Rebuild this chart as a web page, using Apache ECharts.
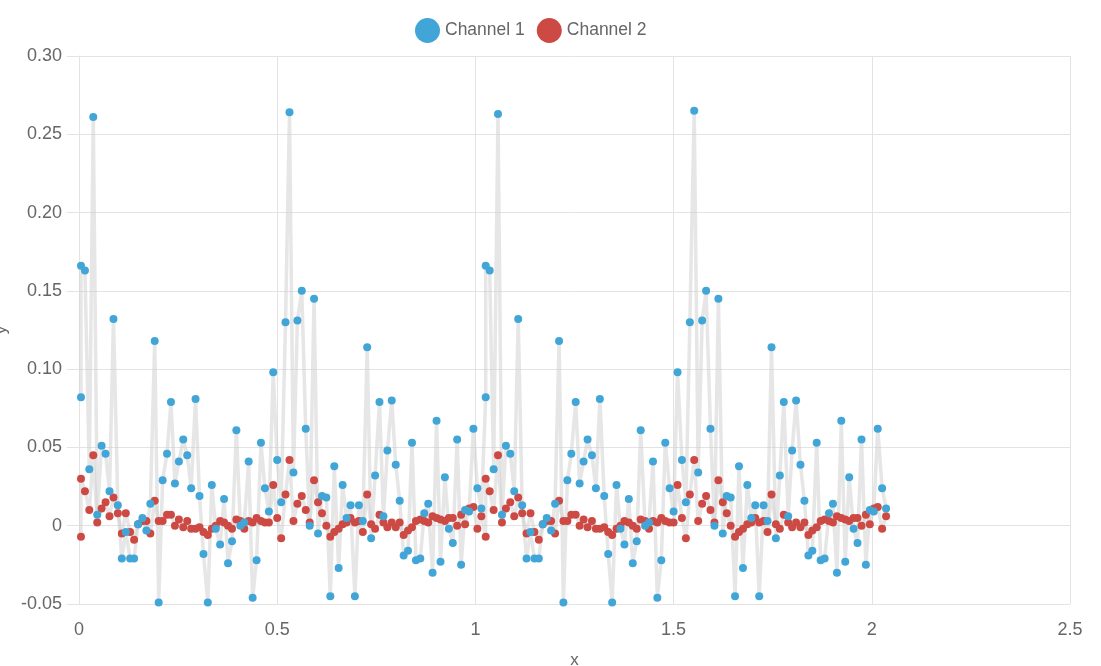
<!DOCTYPE html>
<html>
<head>
<meta charset="utf-8">
<title>Channel 1 / Channel 2</title>
<script src="https://cdn.jsdelivr.net/npm/echarts@6/dist/echarts.min.js"></script>
<style>
  html, body { margin: 0; padding: 0; background: #fff; }
  #chart { width: 1101px; height: 666px; }
</style>
</head>
<body>
<div id="chart"></div>
<script>
// x positions (two recordings of the same pattern, first sample is doubled each time)
const xValues = [
  0.005, 0.005, 0.015, 0.026, 0.036, 0.046, 0.057, 0.067, 0.077, 0.087, 0.098,
  0.108, 0.118, 0.129, 0.139, 0.149, 0.160, 0.170, 0.180, 0.191, 0.201,
  0.211, 0.222, 0.232, 0.242, 0.252, 0.263, 0.273, 0.283, 0.294, 0.304,
  0.314, 0.325, 0.335, 0.345, 0.356, 0.366, 0.376, 0.386, 0.397, 0.407,
  0.417, 0.428, 0.438, 0.448, 0.459, 0.469, 0.479, 0.490, 0.500, 0.510,
  0.521, 0.531, 0.541, 0.551, 0.562, 0.572, 0.582, 0.593, 0.603, 0.613,
  0.624, 0.634, 0.644, 0.655, 0.665, 0.675, 0.685, 0.696, 0.706, 0.716,
  0.727, 0.737, 0.747, 0.758, 0.768, 0.778, 0.789, 0.799, 0.809, 0.819,
  0.830, 0.840, 0.850, 0.861, 0.871, 0.881, 0.892, 0.902, 0.912, 0.923,
  0.933, 0.943, 0.954, 0.964, 0.974, 0.984, 0.995, 1.005, 1.015,
  1.026, 1.026, 1.036, 1.046, 1.057, 1.067, 1.077, 1.088, 1.098, 1.108, 1.118,
  1.129, 1.139, 1.149, 1.160, 1.170, 1.180, 1.191, 1.201, 1.211, 1.222,
  1.232, 1.242, 1.253, 1.263, 1.273, 1.283, 1.294, 1.304, 1.314, 1.325,
  1.335, 1.345, 1.356, 1.366, 1.376, 1.387, 1.397, 1.407, 1.417, 1.428,
  1.438, 1.448, 1.459, 1.469, 1.479, 1.490, 1.500, 1.510, 1.521, 1.531,
  1.541, 1.552, 1.562, 1.572, 1.582, 1.593, 1.603, 1.613, 1.624, 1.634,
  1.644, 1.655, 1.665, 1.675, 1.686, 1.696, 1.706, 1.716, 1.727, 1.737,
  1.747, 1.758, 1.768, 1.778, 1.789, 1.799, 1.809, 1.820, 1.830, 1.840,
  1.850, 1.861, 1.871, 1.881, 1.892, 1.902, 1.912, 1.923, 1.933, 1.943,
  1.954, 1.964, 1.974, 1.985, 1.995, 2.005, 2.015, 2.026, 2.036
];

const channel1 = [
  0.082, 0.166, 0.163, 0.036, 0.261, 0.007, 0.051, 0.046, 0.022, 0.132,
  0.013, -0.021, -0.004, -0.021, -0.021, 0.001, 0.005, -0.003, 0.014, 0.118,
  -0.049, 0.029, 0.046, 0.079, 0.027, 0.041, 0.055, 0.045, 0.024, 0.081,
  0.019, -0.018, -0.049, 0.026, -0.002, -0.012, 0.017, -0.024, -0.010, 0.061,
  0.000, 0.002, 0.041, -0.046, -0.022, 0.053, 0.024, 0.009, 0.098, 0.042,
  0.015, 0.130, 0.264, 0.034, 0.131, 0.150, 0.062, 0.000, 0.145, -0.005,
  0.019, 0.018, -0.045, 0.038, -0.027, 0.026, 0.005, 0.013, -0.045, 0.013,
  0.003, 0.114, -0.008, 0.032, 0.079, 0.006, 0.048, 0.080, 0.039, 0.016,
  -0.019, -0.016, 0.053, -0.022, -0.021, 0.008, 0.014, -0.030, 0.067, -0.023,
  0.031, -0.002, -0.011, 0.055, -0.025, 0.010, 0.009, 0.062, 0.024, 0.011,
  0.082, 0.166, 0.163, 0.036, 0.263, 0.007, 0.051, 0.046, 0.022, 0.132,
  0.013, -0.021, -0.004, -0.021, -0.021, 0.001, 0.005, -0.003, 0.014, 0.118,
  -0.049, 0.029, 0.046, 0.079, 0.027, 0.041, 0.055, 0.045, 0.024, 0.081,
  0.019, -0.018, -0.049, 0.026, -0.002, -0.012, 0.017, -0.024, -0.010, 0.061,
  0.000, 0.002, 0.041, -0.046, -0.022, 0.053, 0.024, 0.009, 0.098, 0.042,
  0.015, 0.130, 0.265, 0.034, 0.131, 0.150, 0.062, 0.000, 0.145, -0.005,
  0.019, 0.018, -0.045, 0.038, -0.027, 0.026, 0.005, 0.013, -0.045, 0.013,
  0.003, 0.114, -0.008, 0.032, 0.079, 0.006, 0.048, 0.080, 0.039, 0.016,
  -0.019, -0.016, 0.053, -0.022, -0.021, 0.008, 0.014, -0.030, 0.067, -0.023,
  0.031, -0.002, -0.011, 0.055, -0.025, 0.010, 0.009, 0.062, 0.024, 0.011
];

const channel2 = [
  -0.007, 0.030, 0.022, 0.010, 0.045, 0.002, 0.011, 0.015, 0.006, 0.018,
  0.008, -0.005, 0.008, -0.004, -0.009, 0.001, 0.003, 0.003, -0.005, 0.016,
  0.003, 0.003, 0.007, 0.007, 0.000, 0.004, -0.001, 0.003, -0.002, -0.002,
  -0.001, -0.004, -0.006, -0.002, 0.000, 0.003, 0.002, 0.000, -0.002, 0.004,
  0.003, -0.002, 0.003, 0.002, 0.005, 0.003, 0.002, 0.002, 0.026, 0.005,
  -0.008, 0.020, 0.042, 0.003, 0.014, 0.019, 0.010, 0.002, 0.029, 0.015,
  0.008, 0.000, -0.007, -0.004, -0.002, 0.001, 0.002, 0.005, 0.002, 0.003,
  -0.004, 0.020, 0.001, -0.002, 0.007, 0.002, -0.001, 0.002, -0.001, 0.002,
  -0.006, -0.003, -0.001, 0.003, 0.004, 0.003, 0.002, 0.006, 0.005, 0.004,
  0.003, 0.005, 0.005, 0.000, 0.007, 0.001, 0.011, 0.012, -0.002, 0.006,
  -0.007, 0.030, 0.022, 0.010, 0.045, 0.002, 0.011, 0.015, 0.006, 0.018,
  0.008, -0.005, 0.008, -0.004, -0.009, 0.001, 0.003, 0.003, -0.005, 0.016,
  0.003, 0.003, 0.007, 0.007, 0.000, 0.004, -0.001, 0.003, -0.002, -0.002,
  -0.001, -0.004, -0.006, -0.002, 0.000, 0.003, 0.002, 0.000, -0.002, 0.004,
  0.003, -0.002, 0.003, 0.002, 0.005, 0.003, 0.002, 0.002, 0.026, 0.005,
  -0.008, 0.020, 0.042, 0.003, 0.014, 0.019, 0.010, 0.002, 0.029, 0.015,
  0.008, 0.000, -0.007, -0.004, -0.002, 0.001, 0.002, 0.005, 0.002, 0.003,
  -0.004, 0.020, 0.001, -0.002, 0.007, 0.002, -0.001, 0.002, -0.001, 0.002,
  -0.006, -0.003, -0.001, 0.003, 0.004, 0.003, 0.002, 0.006, 0.005, 0.004,
  0.003, 0.005, 0.005, 0.000, 0.007, 0.001, 0.011, 0.012, -0.002, 0.006
];

const seriesNames = ['Channel 1', 'Channel 2'];
const seriesColors = ['#41a6d7', '#cd4a44'];

const pairs = ys => xValues.map((x, i) => [x, ys[i]]);

const chart = echarts.init(document.getElementById('chart'), null, { renderer: 'canvas' });

const gridColor = '#e3e3e3';
const labelFont = 'Liberation Sans, Arial, sans-serif';

// grey connecting line, kept under every dot
function traceSeries(ys) {
  return {
    type: 'line',
    data: pairs(ys),
    z: 1,
    showSymbol: false,
    symbol: 'none',
    silent: true,
    lineStyle: { color: 'rgba(205,205,205,0.5)', width: 3.5 },
    emphasis: { disabled: true }
  };
}

function dotSeries(name, color, ys, z) {
  return {
    name: name,
    type: 'scatter',
    data: pairs(ys),
    z: z,
    symbol: 'circle',
    symbolSize: 8,
    itemStyle: { color: color, opacity: 1 },
    emphasis: { disabled: true }
  };
}

chart.setOption({
  animation: false,
  backgroundColor: '#fff',
  textStyle: { fontFamily: labelFont },
  legend: {
    data: seriesNames,
    left: 410,
    top: 13,
    icon: 'circle',
    itemWidth: 25,
    itemHeight: 25,
    itemGap: 12,
    textStyle: { fontSize: 17.5, color: '#666', fontFamily: labelFont }
  },
  grid: {
    left: 79, right: 31, top: 56, bottom: 62,
    containLabel: false,
    outerBoundsMode: 'none'
  },
  xAxis: {
    type: 'value',
    name: 'x',
    nameLocation: 'middle',
    nameGap: 48,
    nameTextStyle: { fontSize: 17, color: '#666' },
    min: 0,
    max: 2.5,
    interval: 0.5,
    axisLine: { show: true, lineStyle: { color: gridColor } },
    axisTick: { show: true, length: 11, lineStyle: { color: gridColor } },
    splitLine: { show: true, lineStyle: { color: gridColor } },
    axisLabel: { fontSize: 18, color: '#666', margin: 17 }
  },
  yAxis: {
    type: 'value',
    name: 'y',
    nameLocation: 'middle',
    nameGap: 68,
    nameTextStyle: { fontSize: 17, color: '#666' },
    min: -0.05,
    max: 0.3,
    interval: 0.05,
    axisLine: { show: true, lineStyle: { color: gridColor } },
    axisTick: { show: true, length: 12, lineStyle: { color: gridColor } },
    splitLine: { show: true, lineStyle: { color: gridColor } },
    axisLabel: {
      fontSize: 18,
      color: '#666',
      margin: 17,
      formatter: v => (Math.abs(v) < 1e-9 ? '0' : v.toFixed(2))
    }
  },
  series: [
    traceSeries(channel1),
    traceSeries(channel2),
    dotSeries(seriesNames[0], seriesColors[0], channel1, 4),
    dotSeries(seriesNames[1], seriesColors[1], channel2, 3)
  ]
});
</script>
</body>
</html>
